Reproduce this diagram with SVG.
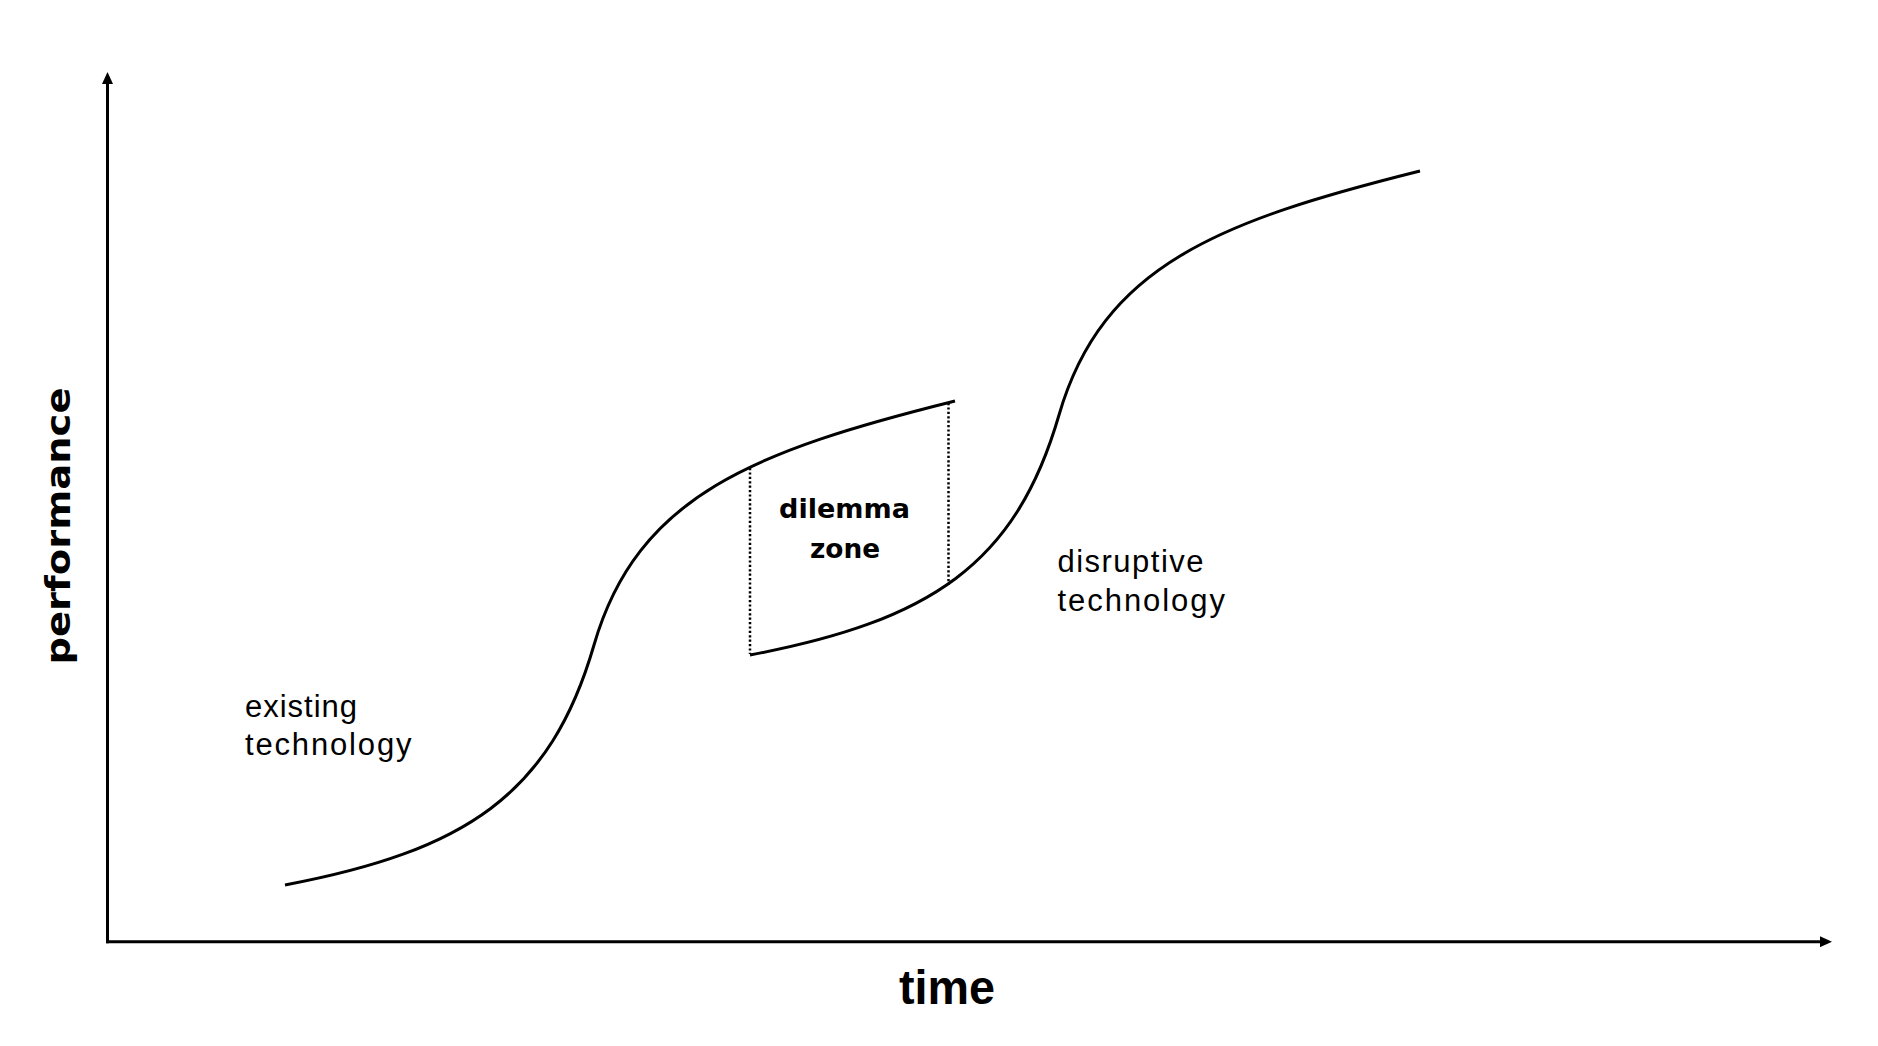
<svg xmlns="http://www.w3.org/2000/svg" width="1878" height="1046" viewBox="0 0 1878 1046">
  <style>
    .axis { fill: none; stroke: #000; stroke-width: 3; }
    .curve { fill: none; stroke: #000; stroke-width: 3; stroke-linecap: butt; }
    .dots { fill: none; stroke: #000; stroke-width: 2.5; stroke-dasharray: 2.2 2.2; }
    .lbl { font-family: "Liberation Sans", Arial, sans-serif; font-size: 31px; fill: #000; }
    .bold { font-family: "DejaVu Sans", "Liberation Sans", sans-serif; font-weight: bold; fill: #000; }
    .time { font-family: "Liberation Sans", Arial, sans-serif; font-weight: bold; font-size: 48px; fill: #000; }
  </style>
  <defs>
    <marker id="arrow" viewBox="0 0 12 11" markerWidth="12" markerHeight="11" refX="1" refY="5.5" orient="auto" markerUnits="userSpaceOnUse">
      <path d="M0,0 L12,5.5 L0,11 Z" fill="#000"/>
    </marker>
  </defs>
  <rect x="0" y="0" width="1878" height="1046" fill="#fff"/>

  <g id="connectors">
    <line id="y-axis" class="axis" x1="107.5" y1="943.2" x2="107.5" y2="83" marker-end="url(#arrow)"/>
    <line id="x-axis" class="axis" x1="106" y1="941.7" x2="1821" y2="941.7" marker-end="url(#arrow)"/>
    <path id="existing-curve" class="curve" d="M285,885 C465,850.8 550.5,795 594,645 C637.5,495 755,451 955,401"/>
    <path id="disruptive-curve" class="curve" d="M750,655 C930,620.8 1015.5,565 1059,415 C1102.5,265 1220,221 1420,171"/>
    <line id="dilemma-left" class="dots" x1="750" y1="468" x2="750" y2="654"/>
    <line id="dilemma-right" class="dots" x1="948.5" y1="403" x2="948.5" y2="585"/>
  </g>

  <g id="label-performance">
    <text class="bold" font-size="34" text-anchor="middle" textLength="277" lengthAdjust="spacingAndGlyphs" transform="translate(70,526) rotate(-90)" x="0" y="0">performance</text>
  </g>
  <g id="label-time">
    <text class="time" x="947" y="1004" text-anchor="middle" textLength="96" lengthAdjust="spacingAndGlyphs">time</text>
  </g>
  <g id="label-existing">
    <text class="lbl" x="245" y="716.5" textLength="112" lengthAdjust="spacing">existing</text>
    <text class="lbl" x="245" y="755" textLength="166.5" lengthAdjust="spacing">technology</text>
  </g>
  <g id="label-disruptive">
    <text class="lbl" x="1057.5" y="572" textLength="146" lengthAdjust="spacing">disruptive</text>
    <text class="lbl" x="1057.5" y="611" textLength="167.5" lengthAdjust="spacing">technology</text>
  </g>
  <g id="label-dilemma">
    <text class="bold" font-size="26" x="844.5" y="518" text-anchor="middle" textLength="131" lengthAdjust="spacingAndGlyphs">dilemma</text>
    <text class="bold" font-size="26" x="845" y="558" text-anchor="middle" textLength="70" lengthAdjust="spacingAndGlyphs">zone</text>
  </g>
</svg>
